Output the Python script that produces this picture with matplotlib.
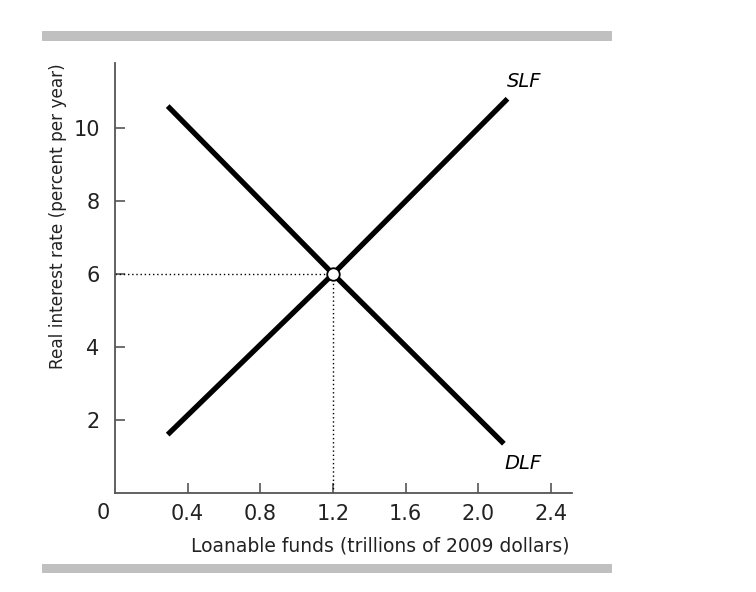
import matplotlib
matplotlib.use("Agg")
import matplotlib.pyplot as plt
from matplotlib.patches import Rectangle

# Data
slf_x = [0.29, 1.2, 2.16]
slf_y = [1.6, 6.0, 10.8]
dlf_x = [0.29, 1.2, 2.14]
dlf_y = [10.6, 6.0, 1.35]
eq_x, eq_y = 1.2, 6.0
x_ticks = [0.4, 0.8, 1.2, 1.6, 2.0, 2.4]
x_ticklabels = ["0.4", "0.8", "1.2", "1.6", "2.0", "2.4"]
y_ticks = [2, 4, 6, 8, 10]
y_ticklabels = ["2", "4", "6", "8", "10"]

plt.rcParams['font.family'] = ['DejaVu Sans']

W, H = 756, 592
fig = plt.figure(figsize=(W / 100, H / 100), dpi=100)

# grey bars
fig.add_artist(Rectangle((42 / W, 1 - 41 / H), 570 / W, 10 / H, transform=fig.transFigure,
                         color="#c0c0c0", lw=0))
fig.add_artist(Rectangle((42 / W, 1 - 573 / H), 570 / W, 9 / H, transform=fig.transFigure,
                         color="#c0c0c0", lw=0))

ax = fig.add_axes([115 / W, (H - 493) / H, 457 / W, 430 / H])
ax.set_xlim(0, 2.515)
ax.set_ylim(0, 11.78)

for s in ["top", "right"]:
    ax.spines[s].set_visible(False)
for s in ["left", "bottom"]:
    ax.spines[s].set_color("#555555")
    ax.spines[s].set_linewidth(1.3)

ax.set_xticks(x_ticks)
ax.set_xticklabels(x_ticklabels)
ax.set_yticks(y_ticks)
ax.set_yticklabels(y_ticklabels)
ax.tick_params(axis="both", direction="in", length=7, width=1.2, color="#555555",
               labelsize=15, labelcolor="#222222")
ax.tick_params(axis="x", pad=8)
ax.tick_params(axis="y", pad=11)

# dotted guides
ax.plot([0, eq_x], [eq_y, eq_y], linestyle=(0, (1, 2)), color="black", lw=1.0)
ax.plot([eq_x, eq_x], [0, eq_y], linestyle=(0, (1, 2)), color="black", lw=1.0)

ax.plot(slf_x, slf_y, color="black", lw=3.8, solid_capstyle="butt")
ax.plot(dlf_x, dlf_y, color="black", lw=3.8, solid_capstyle="butt")
ax.plot([eq_x], [eq_y], marker="o", markersize=9, markerfacecolor="white",
        markeredgecolor="black", markeredgewidth=1.3, zorder=5)

ax.text(2.25, 11.26, "SLF", style="italic", fontsize=14, ha="center", va="center")
ax.text(2.245, 0.82, "DLF", style="italic", fontsize=14, ha="center", va="center")

fig.text(103 / W, 1 - 513 / H, "0", fontsize=15, ha="center", va="center", color="#222222")
fig.text(380 / W, 1 - 546 / H, "Loanable funds (trillions of 2009 dollars)", fontsize=13.5,
         ha="center", va="center", color="#222222")
fig.text(58 / W, 1 - 216 / H, "Real interest rate (percent per year)", fontsize=12.2,
         rotation=90, ha="center", va="center", color="#222222")

fig.savefig("out.png", dpi=100)
